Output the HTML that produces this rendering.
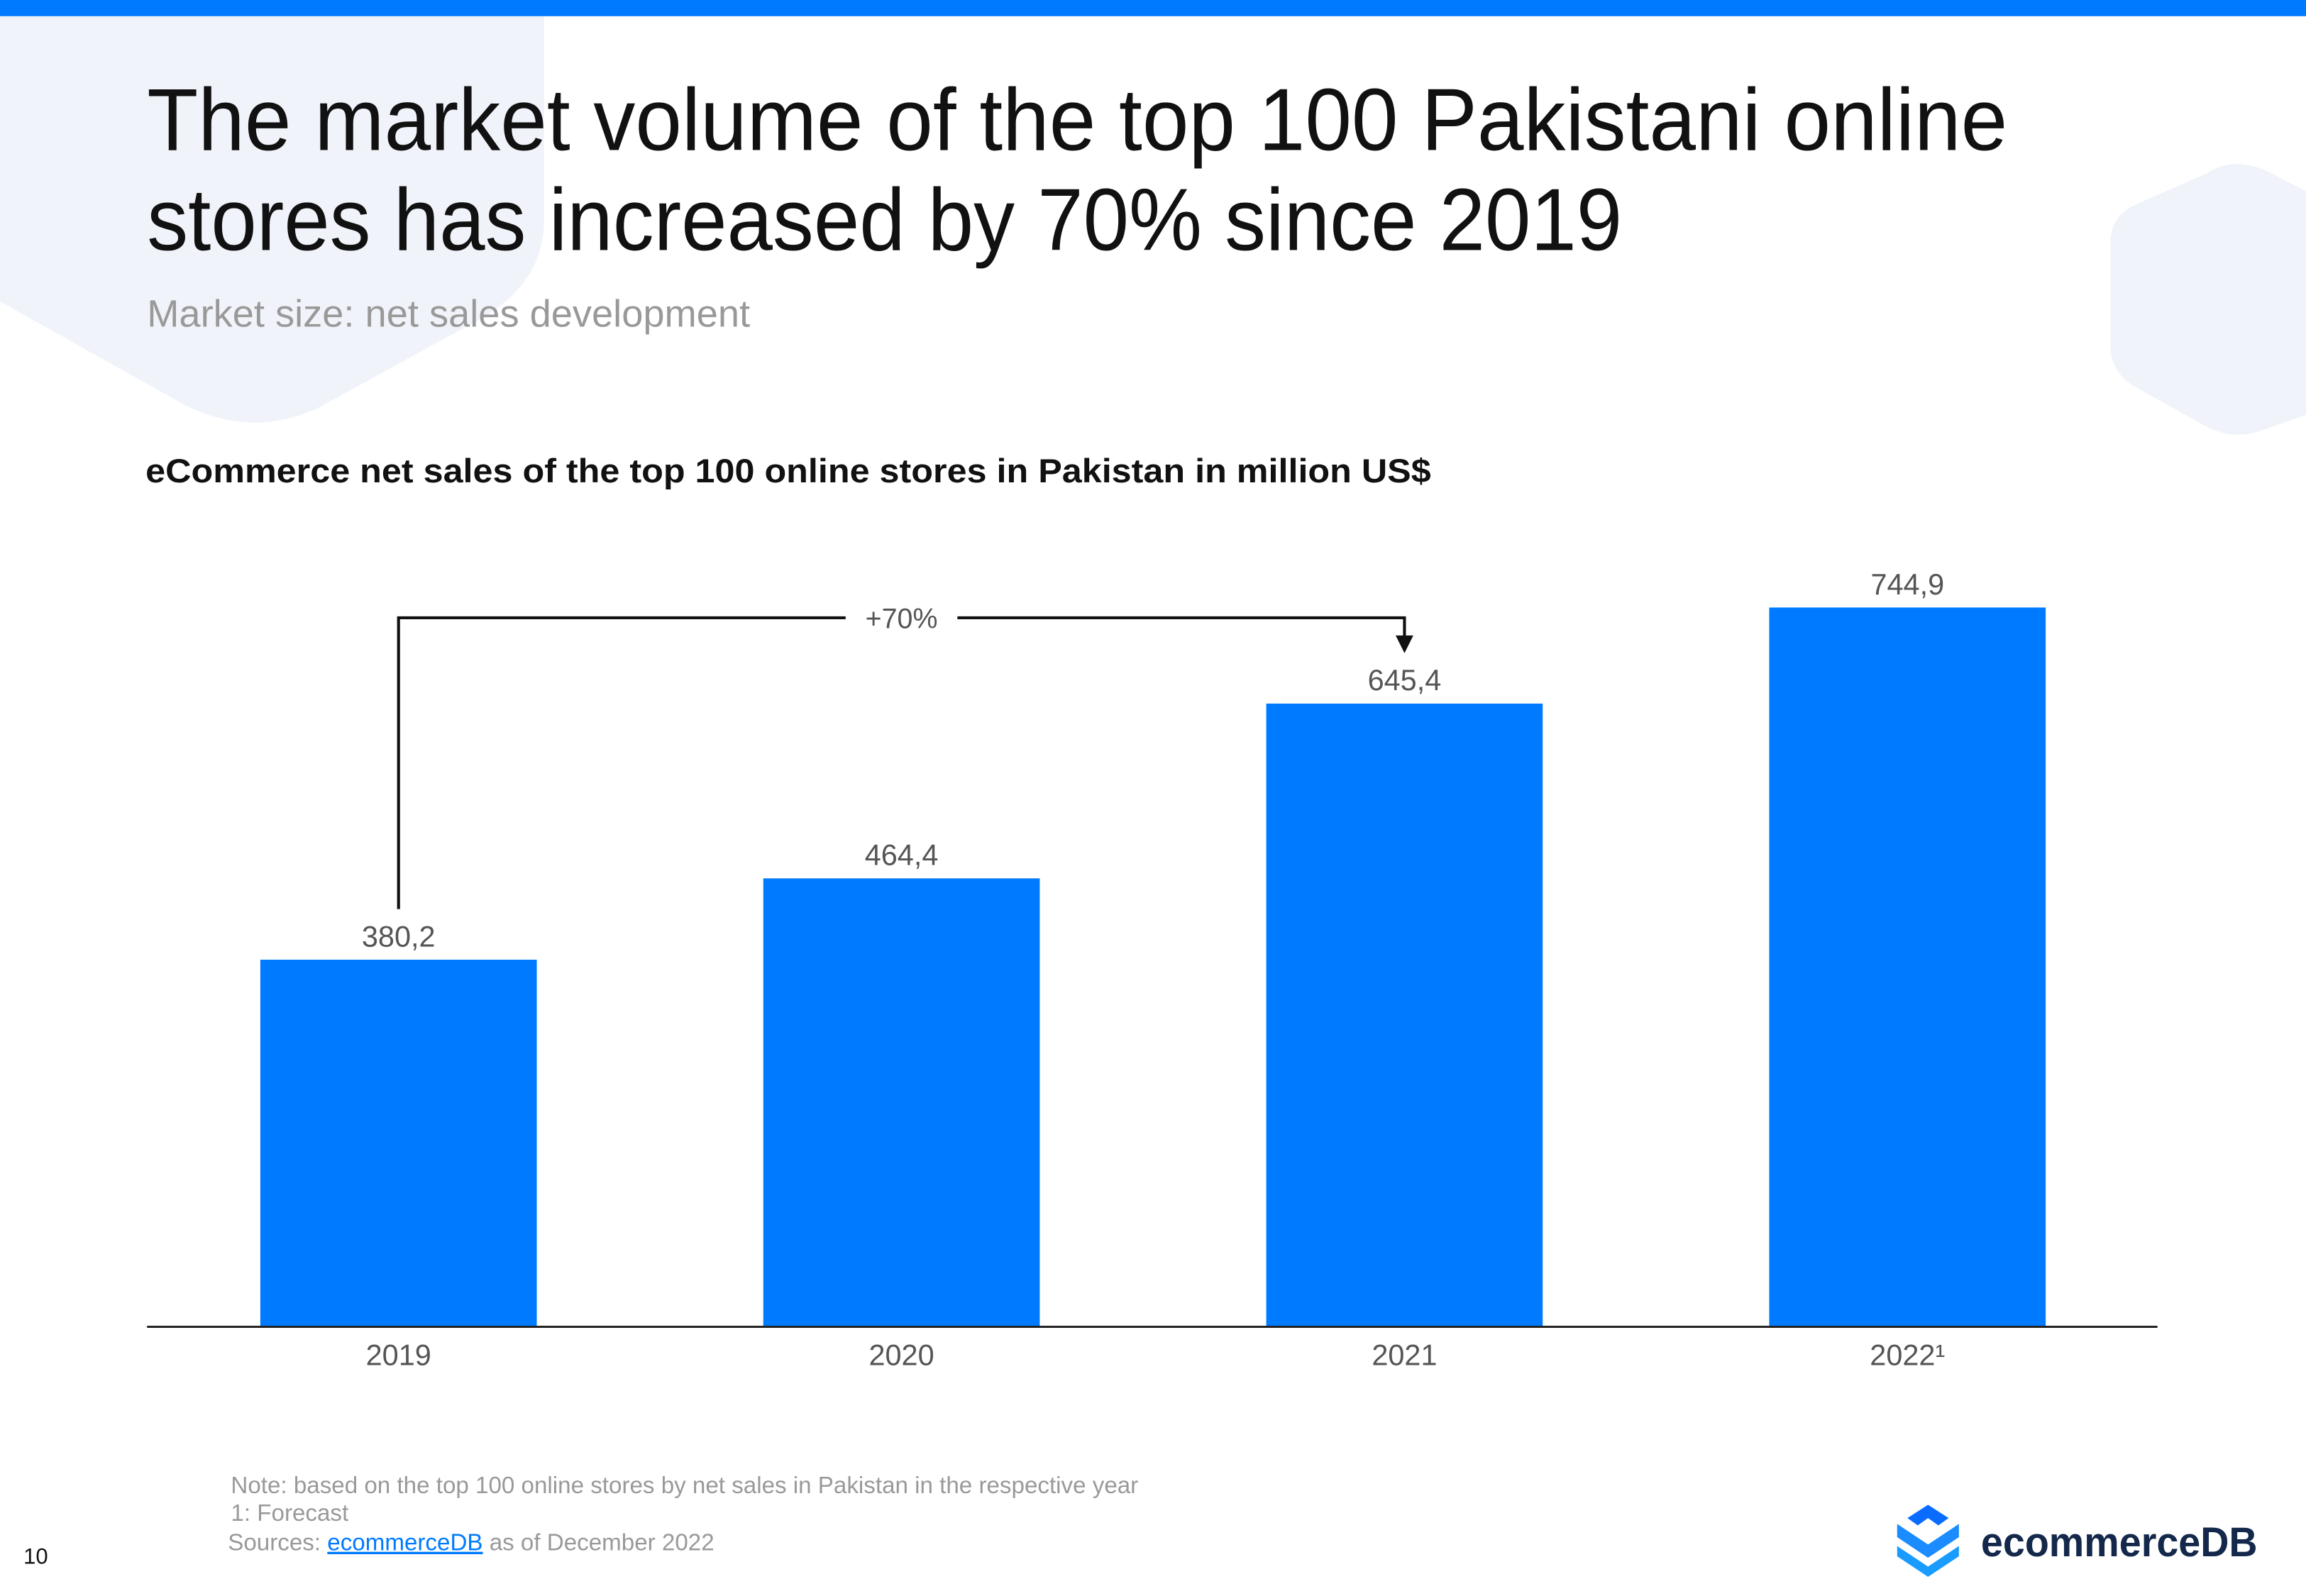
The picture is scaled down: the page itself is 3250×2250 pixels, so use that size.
<!DOCTYPE html>
<html><head><meta charset="utf-8"><style>
html,body{margin:0;padding:0;background:#fff;}
svg{display:block;}
text{font-family:"Liberation Sans",sans-serif;}
</style></head><body>
<svg id="chart" width="3250" height="2250" viewBox="0 0 1568 1085" preserveAspectRatio="none" xmlns="http://www.w3.org/2000/svg">
<path d="M0 11 H370 V150 Q370 190 330 215 L215 278 Q170 298 125 275 L0 205 Z" fill="#f0f4fa"/>
<path d="M1500 118 Q1520 105 1545 118 L1568 130 V282 L1540 292 Q1520 300 1500 290 L1450 262 Q1435 252 1435 235 V165 Q1435 148 1450 140 Z" fill="#f0f4fa"/>
<rect x="0" y="0" width="1568" height="11" fill="#007bff"/>
<text x="100" y="102" font-size="60" fill="#111" textLength="1265" lengthAdjust="spacingAndGlyphs">The market volume of the top 100 Pakistani online</text>
<text x="100" y="170" font-size="60" fill="#111" textLength="1003" lengthAdjust="spacingAndGlyphs">stores has increased by 70% since 2019</text>
<text x="100" y="222" font-size="26" fill="#999" textLength="410" lengthAdjust="spacingAndGlyphs">Market size: net sales development</text>
<text x="99" y="328" font-size="23" font-weight="bold" fill="#111" textLength="874" lengthAdjust="spacingAndGlyphs">eCommerce net sales of the top 100 online stores in Pakistan in million US$</text>
<g id="bars"></g>
<line x1="100" y1="902" x2="1467" y2="902" stroke="#222" stroke-width="1.5"/>
<g fill="none" stroke="#111" stroke-width="2">
<polyline points="271,618 271,420 575,420"/>
<polyline points="651,420 955,420 955,433"/>
</g>
<polygon points="949,432 961,432 955,444" fill="#111"/>
<text x="613" y="427" font-size="19" fill="#555" text-anchor="middle">+70%</text>
<text x="157" y="1015" font-size="16" fill="#999">Note: based on the top 100 online stores by net sales in Pakistan in the respective year</text>
<text x="157" y="1034" font-size="16" fill="#999">1: Forecast</text>
<text x="155" y="1054" font-size="16" fill="#999">Sources: <tspan fill="#007bff" text-decoration="underline">ecommerceDB</tspan> as of December 2022</text>
<text x="16" y="1063" font-size="15" fill="#111">10</text>
<g>
<path d="M1297 1032 L1311 1023 L1325 1032 L1318 1037 L1311 1032 L1304 1037 Z" fill="#0a6cff"/>
<path d="M1290 1036 L1311 1050 L1332 1036 V1045 L1311 1059 L1290 1045 Z" fill="#1a8cff"/>
<path d="M1290 1051 L1311 1065 L1332 1051 V1058 L1311 1072 L1290 1058 Z" fill="#1a9cff"/>
<text x="1347" y="1058" font-size="28" font-weight="bold" fill="#14284b" textLength="188" lengthAdjust="spacingAndGlyphs">ecommerceDB</text>
</g>
</svg>
<script>
const categories = ["2019","2020","2021","20221"];
const tickLabels = ["2019","2020","2021","2022¹"];
const values = [380.2, 464.4, 645.4, 744.9];
const valueLabels = ["380,2","464,4","645,4","744,9"];
const NS="http://www.w3.org/2000/svg";
const baseY=902, plotH=489, maxV=744.9;
function yScale(v){return baseY - v/maxV*plotH;}
function xCenter(i){return 271 + i*342;}
const g=document.getElementById('bars');
values.forEach((v,i)=>{
  const r=document.createElementNS(NS,'rect');
  
  
  r.setAttribute('x',xCenter(i)-94);r.setAttribute('width',188);
  r.setAttribute('y',yScale(v));r.setAttribute('height',baseY-yScale(v));
  r.setAttribute('fill','#007bff');g.appendChild(r);
  const t=document.createElementNS(NS,'text');
  
  
  t.setAttribute('x',xCenter(i));t.setAttribute('y',yScale(v)-9);
  t.setAttribute('text-anchor','middle');t.setAttribute('font-size','20');t.setAttribute('fill','#555');
  t.textContent=valueLabels[i];g.appendChild(t);
  const x=document.createElementNS(NS,'text');
  
  
  x.setAttribute('x',xCenter(i));x.setAttribute('y',928);
  x.setAttribute('text-anchor','middle');x.setAttribute('font-size','20');x.setAttribute('fill','#555');
  x.textContent=tickLabels[i];g.appendChild(x);
});
</script>
</body></html>
